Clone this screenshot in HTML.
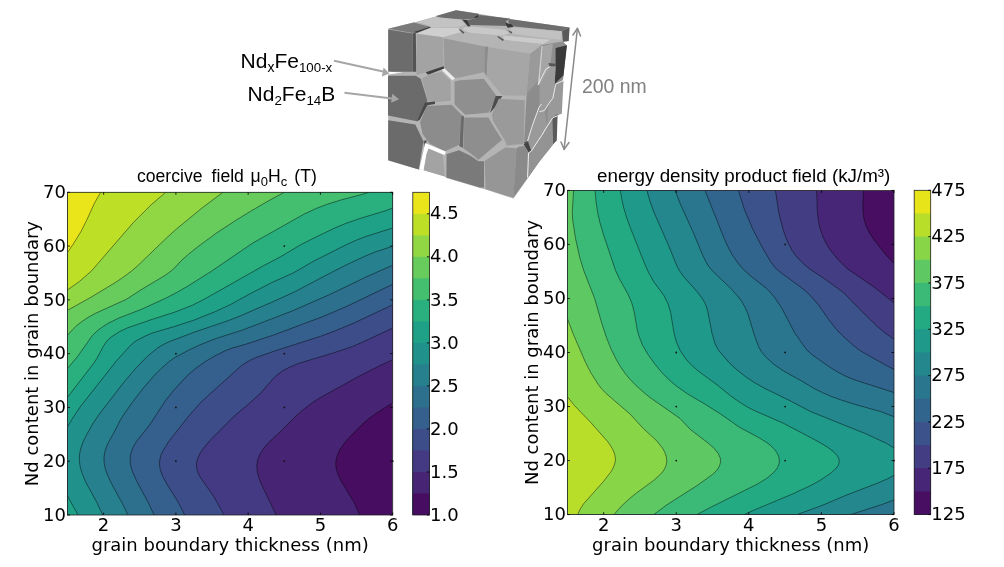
<!DOCTYPE html><html><head><meta charset="utf-8"><title>figure</title><style>html,body{margin:0;padding:0;background:#fff;}svg{display:block;}</style></head><body>
<svg width="1004" height="567" viewBox="0 0 1004 567">
<rect width="1004" height="567" fill="#fff"/>
<g><polygon points="388.2,28.8 413.7,22.5 416.3,22.0 434.8,16.7 456.0,10.3 474.0,13.0 478.5,13.8 509.2,19.1 569.5,27.6 568.7,41.1 563.0,41.8 566.5,45.3 563.1,78.8 561.8,81.4 559.2,111.9 556.0,120.0 554.6,142.6 539.0,162.0 513.5,198.6 485.5,189.5 480.0,188.0 446.3,178.0 444.9,176.6 423.7,170.3 418.8,169.6 388.2,160.4" fill="#b4b4b4"/>
<polygon points="530.3,53.7 542.0,45.0 562.0,41.5 563.0,41.8 566.5,45.3 563.1,78.8 561.8,81.4 559.2,111.9 556.0,120.0 554.6,142.6 539.0,162.0 513.5,198.6 527.8,177.8 529.2,152.4 526.8,96.0" fill="#8e8e8e"/>
<polygon points="435.9,16.1 456.0,10.3 478.6,13.7 474.9,18.7 462.4,19.3 440.0,18.0" fill="#6d6d6d"/>
<polygon points="466.2,19.9 474.9,18.7 479.5,14.9 510.2,18.6 506.0,21.2 509.2,26.0 470.0,24.9" fill="#686868"/>
<polygon points="509.2,19.1 569.5,27.6 562.0,31.3 512.3,26.2 508.0,22.0" fill="#6e6e6e"/>
<polygon points="562.0,31.3 569.5,27.6 568.7,41.1 563.0,41.8" fill="#595959"/>
<polygon points="416.3,22.0 434.8,16.7 460.3,19.8 465.6,24.6 460.3,26.7 431.7,27.2 426.4,24.6" fill="#c3c3c3"/>
<polygon points="463.8,27.3 470.0,26.5 504.9,29.7 509.2,33.4 501.7,35.5 470.0,32.9 462.5,29.8" fill="#c8c8c8"/>
<polygon points="509.2,27.0 562.0,31.3 561.0,39.7 550.4,38.7 512.3,33.4" fill="#c1c1c1"/>
<polygon points="502.8,35.5 550.4,39.7 543.0,44.0 503.9,39.7" fill="#cbcbcb"/>
<polygon points="388.2,28.8 413.7,22.5 429.6,26.7 412.6,33.1" fill="#7b7b7b"/>
<polygon points="416.8,33.6 429.6,27.8 458.2,27.8 461.4,32.0 442.8,37.3" fill="#cfcfcf"/>
<polygon points="443.3,37.3 463.4,33.1 468.7,32.5 499.6,36.3 501.0,40.0 486.0,45.5 470.0,44.5 443.3,38.2" fill="#b5b5b5"/>
<polygon points="489.0,46.6 502.8,40.8 542.0,44.5 530.3,53.5" fill="#b4b4b4"/>
<polygon points="414.5,31.8 429.6,26.7 431.0,27.5 416.5,33.0" fill="#3f3f3f"/>
<polygon points="462.1,19.6 466.9,19.9 470.5,26.3 468.1,26.5" fill="#3a3a3a"/>
<polygon points="473.5,18.1 478.9,14.0 477.7,17.4" fill="#333333"/>
<polygon points="505.2,22.9 511.2,24.1 513.5,27.1 507.6,27.7" fill="#3a3a3a"/>
<polygon points="459.8,28.9 464.5,32.5 463.3,33.7 459.2,30.1" fill="#555555"/>
<polygon points="498.0,36.1 504.0,39.7 502.8,40.9 497.4,37.0" fill="#555555"/>
<polygon points="507.6,30.1 512.3,31.9 511.2,33.7" fill="#555555"/>
<polygon points="388.2,29.4 412.6,33.4 412.6,71.7 388.2,71.7" fill="#6c6c6c"/>
<polygon points="412.6,33.4 415.8,31.5 416.3,71.7 412.6,71.7" fill="#545454"/>
<polygon points="416.8,34.1 442.8,37.3 443.6,67.5 416.4,75.0" fill="#a3a3a3"/>
<polygon points="443.6,38.2 484.5,46.5 484.5,72.0 460.0,77.5 453.0,78.0 444.5,67.5" fill="#9a9a9a"/>
<polygon points="484.5,46.5 488.4,46.8 486.6,76.5 484.3,72.8" fill="#8c8c8c"/>
<polygon points="488.0,47.2 530.3,53.7 526.8,95.8 502.3,95.3 487.0,77.0" fill="#a6a6a6"/>
<polygon points="530.3,53.7 542.0,45.6 540.2,78.0 537.4,81.6 526.8,93.6" fill="#9a9a9a"/>
<polygon points="541.5,46.2 543.0,45.8 539.5,85.0 537.9,84.1" fill="#cdcdcd"/>
<polygon points="542.8,46.2 552.9,43.5 550.3,64.7 545.9,80.6 539.5,85.0" fill="#a5a5a5"/>
<polygon points="555.6,47.9 567.0,45.3 563.5,75.3 554.7,84.1 555.6,66.5" fill="#3a3a3a"/>
<polygon points="548.5,63.0 555.6,63.8 555.6,66.5 549.4,66.5" fill="#555555"/>
<polygon points="539.7,85.5 550.3,66.5 555.6,66.5 554.7,84.1 552.9,98.2 548.8,103.5 544.4,110.6 539.5,111.5" fill="#9c9c9c"/>
<polygon points="555.6,84.1 563.5,80.6 561.8,114.1 552.9,117.6 547.0,126.5 548.8,103.5 552.9,98.2" fill="#999999"/>
<polygon points="425.7,72.3 443.6,66.2 444.2,68.6 428.0,74.8" fill="#404040"/>
<polygon points="441.7,69.9 444.5,68.5 455.0,78.2 452.5,80.5" fill="#ececec"/>
<polygon points="388.0,71.7 403.0,72.6 388.0,74.6" fill="#ffffff"/>
<polygon points="388.0,75.8 415.8,75.8 420.7,78.8 427.5,100.7 417.0,121.3 388.0,115.6" fill="#6b6b6b"/>
<polygon points="421.7,78.8 429.4,74.3 441.7,72.0 450.5,80.5 450.8,100.7 434.3,102.2 428.2,100.8" fill="#a2a2a2"/>
<polygon points="454.5,81.5 460.0,80.2 483.8,78.8 496.5,96.0 488.8,112.6 480.0,113.6 465.2,114.8 454.5,104.2" fill="#8f8f8f"/>
<polygon points="425.0,102.6 434.9,101.4 435.0,104.0 427.5,105.2 419.8,119.8 416.8,121.5" fill="#4a4a4a"/>
<polygon points="495.7,96.0 502.3,96.0 494.4,107.9 489.8,113.2" fill="#4d4d4d"/>
<polygon points="526.5,96.5 537.9,85.0 539.5,111.5 539.1,107.1 532.0,126.5 527.6,141.0 524.0,144.0" fill="#8c8c8c"/>
<polygon points="532.0,126.5 539.1,107.1 544.4,110.6 547.0,126.5 541.8,135.3 538.2,140.6 531.2,151.2 528.0,141.0" fill="#9a9a9a"/>
<polygon points="528.5,152.9 538.2,140.6 547.0,126.5 552.9,117.6 553.2,144.1 539.0,162.0 527.8,177.8" fill="#939393"/>
<polygon points="552.4,117.6 557.6,114.1 556.8,140.6 553.2,144.1" fill="#5a5a5a"/>
<polygon points="524.1,142.4 528.0,141.0 531.2,151.2 528.5,152.9" fill="#505050"/>
<polygon points="498.8,98.8 524.8,100.2 523.6,144.0 506.7,145.4 505.3,141.2 493.0,121.0 491.9,114.5" fill="#9a9a9a"/>
<polygon points="427.0,106.0 451.6,104.8 461.0,114.3 461.4,120.0 458.8,145.0 444.9,151.2 429.6,143.6 422.6,134.0 420.0,122.0" fill="#8c8c8c"/>
<polygon points="461.4,115.0 464.0,116.5 463.0,148.0 459.2,146.0" fill="#6a6a6a"/>
<polygon points="464.2,117.5 488.4,117.5 494.5,128.0 502.0,139.7 478.5,159.8 470.0,153.0 463.5,148.5" fill="#8e8e8e"/>
<polygon points="388.2,120.2 415.3,124.4 423.4,141.2 418.8,169.4 388.2,160.2" fill="#6b6b6b"/>
<polygon points="423.7,141.2 426.5,139.7 426.0,150.0 424.4,152.4" fill="#555555"/>
<polygon points="425.0,143.0 446.0,151.8 444.5,155.0 428.5,148.6 426.4,154.0 423.6,170.2 419.2,169.6 423.2,152.0" fill="#ffffff"/>
<polygon points="428.6,148.8 442.8,155.0 444.9,176.4 423.9,170.2 426.7,154.5" fill="#a3a3a3"/>
<polygon points="446.5,154.2 459.0,150.2 470.0,155.6 478.5,161.2 484.0,161.2 484.0,187.6 480.0,187.6 446.4,177.6" fill="#7a7a7a"/>
<polygon points="484.6,161.0 505.3,147.5 516.5,148.2 513.4,197.8 485.6,189.0" fill="#969696"/>
<polygon points="516.5,148.2 519.0,146.8 524.7,146.1 528.9,153.2 527.5,177.9 513.4,197.8" fill="#8a8a8a"/>
<polygon points="523.6,144.2 527.8,142.8 530.6,149.8 529.2,152.6" fill="#444444"/>
<polyline points="537.9,85.0 545.9,69.1 550.3,66.5" fill="none" stroke="#f2f2f2" stroke-width="0.9"/>
<polyline points="555.6,84.1 563.5,80.6" fill="none" stroke="#f2f2f2" stroke-width="0.9"/>
<polyline points="527.6,141.0 532.0,126.5 539.1,107.1 541.5,104.0" fill="none" stroke="#f2f2f2" stroke-width="0.9"/>
<polyline points="539.5,111.5 544.4,110.6 548.8,103.5 552.9,98.2 555.6,84.5" fill="none" stroke="#f2f2f2" stroke-width="0.9"/>
<polyline points="527.6,177.6 528.5,152.9 531.2,151.2 538.2,140.6 541.8,135.3 547.0,126.5 552.9,117.6 561.8,114.1" fill="none" stroke="#f2f2f2" stroke-width="1.0"/></g>
<g font-family="Liberation Sans, Arial, sans-serif" fill="#000">
<text x="240.6" y="67.6" font-size="21">Nd<tspan font-size="14" dy="4.8">x</tspan><tspan dy="-4.8">Fe</tspan><tspan font-size="13.3" dy="4.8">100-x</tspan></text>
<text x="247.6" y="100.7" font-size="21">Nd<tspan font-size="13.3" dy="4.7">2</tspan><tspan dy="-4.7">Fe</tspan><tspan font-size="13.3" dy="4.7">14</tspan><tspan dy="-4.7">B</tspan></text>
</g>
<g stroke="#a6a6a6" stroke-width="2" fill="#a6a6a6">
<line x1="334" y1="60.8" x2="383" y2="71.6"/><polygon stroke="none" points="389.4,73.4 381.8,76.6 383.6,67.4"/>
<line x1="344.5" y1="92.8" x2="392" y2="98.4"/><polygon stroke="none" points="399,99.2 391.2,102.8 392.2,93.8"/>
</g>
<g stroke="#8a8a8a" stroke-width="1.5" fill="none" stroke-linecap="round" stroke-linejoin="round">
<line x1="577.4" y1="28.5" x2="564.1" y2="149.2"/>
<polyline points="573,35 577.4,28.3 580.6,36"/>
<polyline points="561,142 564.1,149.4 569,142.5"/>
</g>
<text x="582" y="93" font-size="19.4" fill="#808080" font-family="Liberation Sans, Arial, sans-serif">200 nm</text>
<clipPath id="cl"><rect x="67.50" y="192.30" width="325.20" height="322.70"/></clipPath>
<g clip-path="url(#cl)"><rect x="67.50" y="192.30" width="325.20" height="322.70" fill="#470d60"/>
<path d="M68.5 192.3L392.7 192.3L392.7 402.9L379.0 411.3L369.3 418.3L362.2 424.3L351.2 435.3L345.0 442.3L340.1 449.3L337.3 455.3L335.9 461.3L335.8 464.3L336.2 468.3L338.7 476.3L341.8 482.3L353.9 502.3L357.3 509.3L359.4 515.0L67.5 515.0L67.5 192.3Z" fill="#482475"/>
<path d="M68.5 192.3L392.7 192.3L392.7 359.7L376.5 367.3L358.9 376.3L321.5 396.9L313.5 401.9L304.5 408.5L296.5 415.4L281.9 430.3L269.8 441.3L263.7 448.3L259.9 454.3L257.5 460.3L256.8 466.3L257.4 472.3L259.1 478.3L261.4 484.3L276.2 515.0L67.5 515.0L67.5 192.3Z" fill="#443983"/>
<path d="M68.5 192.3L392.7 192.3L392.7 328.1L361.5 342.6L352.5 346.5L332.5 353.2L298.5 363.4L289.3 367.3L281.9 371.3L277.8 374.3L273.4 378.3L260.5 393.3L249.4 403.3L234.0 416.3L209.2 441.3L202.6 449.3L199.0 455.3L197.5 459.0L196.7 462.3L196.4 465.3L196.7 468.3L197.8 472.3L199.6 476.3L213.6 496.3L224.1 515.0L67.5 515.0L67.5 192.3Z" fill="#3d4d8a"/>
<path d="M68.5 192.3L392.7 192.3L392.7 304.8L353.5 323.2L334.5 331.1L320.5 336.3L276.5 350.4L256.6 357.3L250.5 360.1L244.8 363.3L240.5 366.4L201.5 401.6L189.5 415.1L168.9 441.3L162.6 451.3L160.9 455.3L159.9 459.3L159.5 463.3L159.8 467.3L160.8 471.3L162.7 476.3L167.0 484.3L178.5 502.7L184.7 515.0L67.5 515.0L67.5 192.3Z" fill="#355f8d"/>
<path d="M68.5 192.3L392.7 192.3L392.7 284.3L346.9 306.3L322.5 316.7L272.8 335.3L246.5 344.0L230.5 348.6L219.9 353.3L205.7 361.3L197.1 367.3L190.8 372.3L180.8 382.3L172.5 391.7L166.5 399.3L149.5 425.1L140.2 436.3L135.9 442.3L132.2 449.3L130.9 453.3L130.3 456.3L130.1 460.3L130.5 464.3L131.3 468.3L133.0 473.3L136.8 481.3L147.6 501.3L154.1 515.0L67.5 515.0L67.5 192.3Z" fill="#2d708e"/>
<path d="M68.5 192.3L392.7 192.3L392.7 265.2L366.5 276.8L330.2 294.3L292.5 310.8L277.5 316.9L240.5 330.7L211.0 340.3L201.5 344.1L192.4 348.3L177.0 356.3L168.2 362.3L156.5 373.0L143.5 387.8L131.5 403.4L120.5 419.7L115.2 430.3L107.5 444.3L105.2 450.3L104.1 455.3L103.9 459.3L104.3 464.3L105.5 469.3L107.2 474.3L111.8 484.3L122.8 504.3L128.0 515.0L67.5 515.0L67.5 192.3Z" fill="#27808e"/>
<path d="M68.5 192.3L392.7 192.3L392.7 246.2L374.3 252.3L364.5 256.4L347.5 264.3L331.7 272.3L294.5 291.9L271.6 302.3L239.3 316.3L227.5 320.9L193.9 332.3L172.5 340.3L166.5 342.9L158.5 347.3L152.5 351.8L145.3 358.3L134.5 369.7L120.6 386.3L108.1 402.3L94.9 420.3L90.6 427.3L84.3 439.3L81.7 445.3L80.0 451.3L79.4 456.3L79.5 462.3L80.6 468.3L82.4 474.3L86.3 483.3L96.8 502.3L102.7 515.0L67.5 515.0L67.5 192.3Z" fill="#21918c"/>
<path d="M68.5 192.3L392.7 192.3L392.7 228.0L365.5 236.6L356.5 240.1L346.5 244.6L314.5 260.7L293.5 272.8L271.5 282.7L250.5 293.5L230.9 304.3L215.5 311.5L193.5 320.3L173.5 326.8L152.5 332.9L144.7 336.3L137.1 340.3L133.5 342.8L129.6 346.3L116.5 360.8L80.6 406.3L72.5 418.3L67.5 426.8L67.5 192.3ZM67.7 496.3L78.1 515.0L67.5 515.0L67.5 496.0Z" fill="#1fa188"/>
<path d="M68.5 192.3L392.7 192.3L392.7 208.0L384.5 211.1L359.5 218.6L345.5 223.5L333.5 228.6L310.5 239.7L299.5 245.4L280.5 256.8L263.5 265.7L204.1 299.3L192.3 305.3L174.3 312.3L153.5 318.9L127.5 327.8L119.5 331.6L110.8 337.3L106.6 341.3L103.3 346.3L97.5 357.3L94.4 362.3L67.5 397.3L67.5 192.3Z" fill="#2ab07f"/>
<path d="M68.5 192.3L368.8 192.3L361.5 194.6L340.5 200.1L326.5 204.5L316.5 208.3L303.5 214.4L252.3 243.3L211.5 271.2L187.5 286.3L176.5 292.6L165.5 298.3L141.4 309.3L118.5 318.2L107.5 323.6L98.5 329.7L92.5 335.3L77.7 356.3L67.5 368.4L67.5 192.3Z" fill="#44bf70"/>
<path d="M68.5 192.3L284.3 192.3L268.5 200.8L251.5 210.7L235.5 220.5L216.5 233.0L197.5 247.0L188.5 254.2L181.6 260.3L172.5 270.0L165.5 275.1L140.5 290.1L126.4 299.3L95.5 313.3L88.5 317.1L82.2 321.3L77.0 325.3L72.5 329.7L67.5 335.3L67.5 192.3Z" fill="#67cc5c"/>
<path d="M68.5 192.3L222.9 192.3L202.5 207.6L176.5 228.9L167.2 237.3L137.1 266.3L131.2 271.3L121.7 278.3L114.0 283.3L90.9 297.3L67.5 310.3L67.5 192.3Z" fill="#90d743"/>
<path d="M68.5 192.3L165.7 192.3L151.5 204.4L133.5 222.3L91.5 270.9L79.6 281.3L67.5 289.9L67.5 192.3Z" fill="#bddf26"/>
<path d="M68.5 192.3L100.7 192.3L94.9 202.3L86.6 220.3L81.1 231.3L73.1 244.3L67.5 252.4L67.5 192.3Z" fill="#eae51a"/>
<path d="M392.7 402.9L375.5 413.7L368.0 419.3L361.5 425.0L349.3 437.3L344.2 443.3L339.5 450.3L337.0 456.3L335.9 461.3L335.8 465.3L336.4 469.3L337.8 474.3L341.2 481.3L353.9 502.3L357.3 509.3L359.4 515.0M392.7 359.7L376.5 367.3L358.9 376.3L321.5 396.9L313.5 401.9L304.5 408.5L296.5 415.4L281.9 430.3L269.8 441.3L263.7 448.3L259.9 454.3L257.5 460.3L256.8 466.3L257.4 472.3L259.1 478.3L261.4 484.3L276.2 515.0M392.7 328.1L361.5 342.6L352.5 346.5L332.5 353.2L298.5 363.4L289.3 367.3L281.9 371.3L277.8 374.3L273.4 378.3L260.5 393.3L249.4 403.3L234.0 416.3L209.2 441.3L202.6 449.3L199.0 455.3L197.5 459.0L196.7 462.3L196.4 465.3L196.7 468.3L197.8 472.3L199.6 476.3L213.6 496.3L224.1 515.0M392.7 304.8L353.5 323.2L334.5 331.1L320.5 336.3L276.5 350.4L256.6 357.3L250.5 360.1L244.8 363.3L240.5 366.4L201.5 401.6L189.5 415.1L168.9 441.3L162.6 451.3L160.9 455.3L159.9 459.3L159.5 463.3L159.8 467.3L160.8 471.3L162.7 476.3L167.0 484.3L178.5 502.7L184.7 515.0M392.7 284.3L346.5 306.5L321.5 317.1L272.8 335.3L246.5 344.0L231.5 348.3L225.5 350.6L216.1 355.3L205.7 361.3L194.5 369.3L187.5 375.4L173.7 390.3L165.7 400.3L149.5 425.1L136.5 441.4L133.1 447.3L130.9 453.3L130.2 457.3L130.2 462.3L131.1 467.3L132.7 472.3L136.5 480.8L148.1 502.3L154.1 515.0M392.7 265.2L366.5 276.8L330.2 294.3L291.4 311.3L241.5 330.4L216.5 338.3L199.5 345.0L188.4 350.3L175.3 357.3L169.4 361.3L161.3 368.3L154.4 375.3L143.1 388.3L131.6 403.3L123.5 415.0L120.2 420.3L115.2 430.3L108.5 442.3L106.3 447.3L104.7 452.3L104.0 457.3L104.1 462.3L104.9 467.3L106.8 473.3L111.3 483.3L122.8 504.3L128.0 515.0M392.7 246.2L374.3 252.3L364.5 256.4L347.5 264.3L331.7 272.3L294.5 291.9L271.6 302.3L239.3 316.3L227.5 320.9L193.9 332.3L168.5 342.0L162.5 344.9L157.5 348.0L147.5 356.2L135.5 368.6L124.6 381.3L98.4 415.3L92.5 424.1L86.3 435.3L82.9 442.3L80.8 448.3L79.5 454.3L79.3 460.3L80.1 466.3L81.7 472.3L85.8 482.3L96.8 502.3L102.7 515.0M392.7 228.0L365.5 236.6L356.5 240.1L346.5 244.6L314.5 260.7L293.5 272.8L271.5 282.7L250.5 293.5L230.9 304.3L215.5 311.5L193.5 320.3L173.5 326.8L152.5 332.9L144.7 336.3L137.1 340.3L133.5 342.8L129.6 346.3L116.5 360.8L80.6 406.3L72.5 418.3L67.5 426.8M67.5 496.0L78.1 515.0M392.7 208.0L384.5 211.1L359.5 218.6L345.5 223.5L333.5 228.6L310.5 239.7L299.5 245.4L280.5 256.8L263.5 265.7L204.1 299.3L192.3 305.3L174.3 312.3L153.5 318.9L127.5 327.8L119.5 331.6L110.8 337.3L106.6 341.3L103.3 346.3L97.5 357.3L94.4 362.3L67.5 397.3M368.8 192.3L361.5 194.6L340.5 200.1L326.5 204.5L316.5 208.3L303.5 214.4L252.3 243.3L211.5 271.2L187.5 286.3L176.5 292.6L165.5 298.3L141.4 309.3L118.5 318.2L107.5 323.6L98.5 329.7L92.5 335.3L77.7 356.3L67.5 368.4M284.3 192.3L268.5 200.8L251.5 210.7L235.5 220.5L216.5 233.0L197.5 247.0L188.5 254.2L181.6 260.3L172.5 270.0L165.5 275.1L140.5 290.1L126.4 299.3L95.5 313.3L88.5 317.1L82.2 321.3L77.0 325.3L72.5 329.7L67.5 335.3M222.9 192.3L202.5 207.6L176.5 228.9L167.2 237.3L137.1 266.3L131.2 271.3L121.7 278.3L114.0 283.3L90.9 297.3L67.5 310.3M165.7 192.3L151.5 204.4L133.5 222.3L91.5 270.9L79.6 281.3L67.5 289.9M100.7 192.3L94.9 202.3L86.6 220.3L81.1 231.3L73.1 244.3L67.5 252.4" fill="none" stroke="#000" stroke-opacity="0.75" stroke-width="0.6"/></g>
<rect x="67.50" y="192.30" width="325.20" height="322.70" fill="none" stroke="#222" stroke-width="0.8"/>
<path d="M103.63 515.00v-2.5M103.63 192.30v2.5M175.90 515.00v-2.5M175.90 192.30v2.5M248.17 515.00v-2.5M248.17 192.30v2.5M320.43 515.00v-2.5M320.43 192.30v2.5M392.70 515.00v-2.5M392.70 192.30v2.5M67.50 515.00h2.5M392.70 515.00h-2.5M67.50 461.22h2.5M392.70 461.22h-2.5M67.50 407.43h2.5M392.70 407.43h-2.5M67.50 353.65h2.5M392.70 353.65h-2.5M67.50 299.87h2.5M392.70 299.87h-2.5M67.50 246.08h2.5M392.70 246.08h-2.5M67.50 192.30h2.5M392.70 192.30h-2.5" stroke="#000" stroke-width="0.8" fill="none"/>
<circle cx="175.90" cy="461.22" r="0.9" fill="#111"/>
<circle cx="175.90" cy="407.43" r="0.9" fill="#111"/>
<circle cx="175.90" cy="353.65" r="0.9" fill="#111"/>
<circle cx="284.30" cy="461.22" r="0.9" fill="#111"/>
<circle cx="284.30" cy="407.43" r="0.9" fill="#111"/>
<circle cx="284.30" cy="353.65" r="0.9" fill="#111"/>
<circle cx="284.30" cy="246.08" r="0.9" fill="#111"/>
<circle cx="392.70" cy="461.22" r="0.9" fill="#111"/>
<rect x="412.80" y="192.30" width="16.60" height="322.70" fill="#eae51a"/>
<rect x="412.80" y="213.81" width="16.60" height="301.19" fill="#bddf26"/>
<rect x="412.80" y="235.33" width="16.60" height="279.67" fill="#90d743"/>
<rect x="412.80" y="256.84" width="16.60" height="258.16" fill="#67cc5c"/>
<rect x="412.80" y="278.35" width="16.60" height="236.65" fill="#44bf70"/>
<rect x="412.80" y="299.87" width="16.60" height="215.13" fill="#2ab07f"/>
<rect x="412.80" y="321.38" width="16.60" height="193.62" fill="#1fa188"/>
<rect x="412.80" y="342.89" width="16.60" height="172.11" fill="#21918c"/>
<rect x="412.80" y="364.41" width="16.60" height="150.59" fill="#27808e"/>
<rect x="412.80" y="385.92" width="16.60" height="129.08" fill="#2d708e"/>
<rect x="412.80" y="407.43" width="16.60" height="107.57" fill="#355f8d"/>
<rect x="412.80" y="428.95" width="16.60" height="86.05" fill="#3d4d8a"/>
<rect x="412.80" y="450.46" width="16.60" height="64.54" fill="#443983"/>
<rect x="412.80" y="471.97" width="16.60" height="43.03" fill="#482475"/>
<rect x="412.80" y="493.49" width="16.60" height="21.51" fill="#470d60"/>
<rect x="412.80" y="192.30" width="16.60" height="322.70" fill="none" stroke="#222" stroke-width="0.8"/>
<path d="M429.40 515.00h-2.5M429.40 471.97h-2.5M429.40 428.95h-2.5M429.40 385.92h-2.5M429.40 342.89h-2.5M429.40 299.87h-2.5M429.40 256.84h-2.5M429.40 213.81h-2.5" stroke="#000" stroke-width="0.8" fill="none"/>
<g font-family="DejaVu Sans, sans-serif" font-size="18" fill="#000">
<text x="66.0" y="520.6" text-anchor="end">10</text>
<text x="66.0" y="466.8" text-anchor="end">20</text>
<text x="66.0" y="413.0" text-anchor="end">30</text>
<text x="66.0" y="359.2" text-anchor="end">40</text>
<text x="66.0" y="305.5" text-anchor="end">50</text>
<text x="66.0" y="251.7" text-anchor="end">60</text>
<text x="66.0" y="197.9" text-anchor="end">70</text>
<text x="103.6" y="531.4" text-anchor="middle">2</text>
<text x="175.9" y="531.4" text-anchor="middle">3</text>
<text x="248.2" y="531.4" text-anchor="middle">4</text>
<text x="320.4" y="531.4" text-anchor="middle">5</text>
<text x="392.7" y="531.4" text-anchor="middle">6</text>
<text x="430.0" y="520.6">1.0</text>
<text x="430.0" y="477.6">1.5</text>
<text x="430.0" y="434.5">2.0</text>
<text x="430.0" y="391.5">2.5</text>
<text x="430.0" y="348.5">3.0</text>
<text x="430.0" y="305.5">3.5</text>
<text x="430.0" y="262.4">4.0</text>
<text x="430.0" y="219.4">4.5</text>
</g>
<text font-family="Liberation Sans, Arial, sans-serif" font-size="17.6" y="181.5"><tspan x="137">coercive</tspan><tspan x="211.6">field</tspan><tspan x="250.6">μ</tspan><tspan font-size="13" dy="4">0</tspan><tspan dy="-4">H</tspan><tspan font-size="13" dy="4">c</tspan><tspan dy="-4" x="294.3">(T)</tspan></text>
<text font-family="DejaVu Sans, sans-serif" font-size="18" transform="translate(38.3,353.6) rotate(-90)" text-anchor="middle">Nd content in grain boundary</text>
<text font-family="DejaVu Sans, sans-serif" font-size="18" x="230.1" y="551.0" text-anchor="middle">grain boundary thickness (nm)</text>
<clipPath id="cr"><rect x="567.40" y="190.40" width="326.60" height="324.20"/></clipPath>
<g clip-path="url(#cr)"><rect x="567.40" y="190.40" width="326.60" height="324.20" fill="#470e61"/>
<path d="M568.4 190.4L863.5 190.4L862.8 204.4L863.0 212.4L864.0 219.4L866.7 227.4L869.7 233.4L874.5 240.4L886.4 255.4L894.0 263.4L894.0 514.6L567.4 514.6L567.4 190.4Z" fill="#482677"/>
<path d="M568.4 190.4L816.7 190.4L817.3 211.4L818.1 218.4L819.3 225.4L821.3 232.4L823.7 238.4L826.7 244.4L829.8 249.4L837.8 259.4L846.8 268.4L873.2 286.4L894.0 302.8L894.0 514.6L567.4 514.6L567.4 190.4Z" fill="#433d84"/>
<path d="M568.4 190.4L775.4 190.4L778.6 211.4L780.6 220.4L783.1 229.4L785.8 237.4L788.8 244.4L792.0 250.4L795.5 255.4L802.0 262.4L808.8 268.4L824.4 278.7L843.3 292.4L865.4 315.0L876.1 325.4L883.1 331.4L894.0 339.3L894.0 514.6L567.4 514.6L567.4 190.4Z" fill="#3b528b"/>
<path d="M568.4 190.4L738.4 190.4L744.4 209.4L752.4 228.4L762.2 247.4L770.5 261.4L774.9 267.4L780.5 272.4L803.7 289.4L809.2 294.4L818.1 304.4L829.4 320.5L836.4 329.4L842.4 335.5L853.3 345.4L859.4 350.1L864.8 353.4L886.1 365.4L894.0 369.4L894.0 514.6L567.4 514.6L567.4 190.4Z" fill="#32658e"/>
<path d="M568.4 190.4L705.0 190.4L724.4 239.1L728.7 248.4L732.6 255.4L738.2 263.4L743.3 269.4L752.4 277.4L766.5 288.4L770.4 292.4L774.6 297.4L781.9 308.4L794.4 332.3L804.4 346.9L807.2 350.4L813.1 355.4L828.4 366.3L836.6 371.4L845.4 376.1L856.2 380.4L894.0 392.5L894.0 514.6L567.4 514.6L567.4 190.4Z" fill="#2a768e"/>
<path d="M568.4 190.4L675.1 190.4L680.1 203.4L693.4 232.8L701.9 253.4L705.7 261.4L708.4 266.0L711.0 269.4L731.7 289.4L738.7 297.4L742.3 302.4L745.6 308.4L748.1 314.4L754.1 334.4L758.4 346.2L761.2 351.4L766.2 357.4L773.4 363.9L783.4 370.9L801.4 380.9L814.4 388.6L822.4 392.6L831.4 396.5L842.3 400.4L855.4 404.5L880.4 411.5L894.0 416.7L894.0 500.0L881.4 504.7L850.6 514.6L567.4 514.6L567.4 190.4Z" fill="#24878e"/>
<path d="M568.4 190.4L646.9 190.4L650.0 201.4L654.0 212.4L668.1 244.4L677.1 266.4L679.4 270.6L683.4 276.3L697.7 292.4L701.5 297.4L704.6 302.4L706.3 306.4L707.8 311.4L712.0 333.4L715.0 343.4L716.8 347.4L719.4 351.4L728.9 362.4L736.4 369.4L746.4 377.3L754.1 382.4L764.4 388.2L790.4 400.9L810.4 411.5L865.4 433.6L886.4 443.3L894.0 448.0L894.0 475.4L887.4 478.9L876.9 483.4L846.4 495.1L823.4 504.9L797.0 514.6L567.4 514.6L567.4 190.4Z" fill="#1f998a"/>
<path d="M568.4 190.4L620.3 190.4L622.9 204.4L627.0 218.4L645.4 265.5L651.7 278.4L654.4 282.7L663.8 295.4L666.5 300.4L668.6 305.4L671.0 314.4L674.3 334.4L677.7 345.4L680.1 350.4L683.2 355.4L687.0 360.4L690.8 364.4L698.7 371.4L717.4 385.1L731.3 396.4L744.4 405.2L749.4 408.1L757.4 412.0L783.4 423.2L817.9 441.4L824.8 445.4L830.7 449.4L835.3 453.4L837.7 456.4L838.7 458.4L839.2 461.4L838.5 464.4L837.4 466.5L835.1 469.4L831.8 472.4L821.7 479.4L810.9 485.4L793.9 493.4L744.1 514.6L567.4 514.6L567.4 190.4Z" fill="#24aa83"/>
<path d="M568.4 190.4L595.1 190.4L596.6 206.4L599.4 220.4L603.1 233.4L613.9 266.4L617.7 275.4L627.6 293.4L631.9 303.4L634.3 312.4L637.9 332.4L641.3 342.4L646.0 351.4L656.7 366.4L667.5 378.4L673.1 383.4L679.5 388.4L688.3 394.4L705.4 404.4L719.7 413.4L739.4 427.2L758.4 437.4L766.5 442.4L770.5 445.4L773.7 448.4L776.4 451.9L778.3 455.4L779.4 460.4L779.1 463.4L778.1 466.4L774.9 471.4L768.1 477.4L762.2 481.4L756.8 484.4L710.4 507.4L697.0 514.6L567.4 514.6L567.4 190.4Z" fill="#3aba76"/>
<path d="M568.4 190.4L573.6 190.4L572.3 211.4L572.7 220.4L576.1 241.4L580.8 261.4L584.0 271.4L594.6 298.4L601.8 323.4L606.4 337.4L611.7 350.4L617.3 361.4L621.4 368.2L625.4 373.8L630.4 379.8L635.9 385.4L644.4 393.0L651.4 398.5L679.9 418.4L690.4 429.5L708.5 443.4L714.2 448.4L718.2 453.4L720.4 458.4L720.5 462.4L719.3 466.4L716.7 470.4L712.6 474.4L697.3 485.4L666.4 505.1L653.7 514.6L567.4 514.6L567.4 190.4Z" fill="#5ec962"/>
<path d="M567.7 319.4L573.4 334.4L585.0 361.4L590.7 372.4L597.5 383.4L601.4 388.6L606.0 393.4L630.4 414.4L643.4 428.6L652.4 436.5L657.3 441.4L661.3 446.4L664.3 451.4L666.2 456.4L666.8 460.4L666.6 463.4L665.4 467.4L663.4 470.9L660.4 474.4L652.4 481.4L636.4 493.0L629.4 498.7L621.4 506.1L613.9 514.6L567.4 514.6L567.4 318.7Z" fill="#89d548"/>
<path d="M567.8 397.4L574.4 405.5L590.7 422.4L607.5 441.4L611.0 446.4L613.4 450.8L615.0 455.4L615.4 459.4L614.2 465.4L612.4 469.4L610.5 472.4L603.5 481.4L583.9 503.4L580.4 508.7L577.6 514.6L567.4 514.6L567.4 396.8Z" fill="#b8de29"/>
<path d="M863.5 190.4L862.8 204.4L863.0 212.4L864.0 219.4L866.7 227.4L869.7 233.4L874.5 240.4L886.4 255.4L894.0 263.4M816.7 190.4L817.3 211.4L818.1 218.4L819.3 225.4L821.3 232.4L823.7 238.4L826.7 244.4L829.8 249.4L837.8 259.4L846.8 268.4L873.2 286.4L894.0 302.8M775.4 190.4L778.6 211.4L780.6 220.4L783.1 229.4L785.8 237.4L788.8 244.4L792.0 250.4L795.5 255.4L802.0 262.4L808.8 268.4L824.4 278.7L843.3 292.4L865.4 315.0L876.1 325.4L883.1 331.4L894.0 339.3M738.4 190.4L744.4 209.4L752.4 228.4L762.2 247.4L770.5 261.4L774.9 267.4L780.5 272.4L803.7 289.4L809.2 294.4L818.1 304.4L829.4 320.5L836.4 329.4L842.4 335.5L853.3 345.4L859.4 350.1L864.8 353.4L886.1 365.4L894.0 369.4M705.0 190.4L724.4 239.1L728.7 248.4L732.6 255.4L738.2 263.4L743.3 269.4L752.4 277.4L766.5 288.4L770.4 292.4L774.6 297.4L781.9 308.4L794.4 332.3L804.4 346.9L807.2 350.4L813.1 355.4L828.4 366.3L836.6 371.4L845.4 376.1L856.2 380.4L894.0 392.5M675.1 190.4L680.1 203.4L693.4 232.8L701.9 253.4L705.7 261.4L708.4 266.0L711.0 269.4L731.7 289.4L738.7 297.4L742.3 302.4L745.6 308.4L748.1 314.4L754.1 334.4L758.4 346.2L761.2 351.4L766.2 357.4L773.4 363.9L783.4 370.9L801.4 380.9L814.4 388.6L822.4 392.6L831.4 396.5L842.3 400.4L855.4 404.5L880.4 411.5L894.0 416.7M894.0 500.0L881.4 504.7L850.6 514.6M646.9 190.4L650.0 201.4L654.0 212.4L668.1 244.4L677.1 266.4L679.4 270.6L683.4 276.3L697.7 292.4L701.5 297.4L704.6 302.4L706.3 306.4L707.8 311.4L712.0 333.4L715.0 343.4L716.8 347.4L719.4 351.4L728.9 362.4L736.4 369.4L746.4 377.3L754.1 382.4L764.4 388.2L790.4 400.9L810.4 411.5L865.4 433.6L886.4 443.3L894.0 448.0M894.0 475.4L887.4 478.9L876.9 483.4L846.4 495.1L823.4 504.9L797.0 514.6M620.3 190.4L621.8 199.4L623.9 208.4L626.6 217.4L630.2 227.4L644.5 263.4L648.5 272.4L653.5 281.4L663.8 295.4L667.9 303.4L670.6 312.4L673.9 332.4L676.2 341.4L680.1 350.4L686.2 359.4L691.8 365.4L698.7 371.4L717.4 385.1L731.4 396.5L741.4 403.3L748.1 407.4L754.4 410.6L783.7 423.4L819.7 442.4L827.9 447.4L833.2 451.4L837.0 455.4L838.7 458.4L839.2 461.4L838.9 463.4L838.1 465.4L836.0 468.4L830.5 473.4L820.0 480.4L810.9 485.4L791.6 494.4L755.7 509.4L744.1 514.6M595.1 190.4L596.0 201.4L597.6 212.4L599.9 222.4L603.4 234.4L615.5 270.4L619.7 279.4L627.6 293.4L631.6 302.4L634.1 311.4L637.2 329.4L638.7 335.4L642.6 345.4L647.9 354.4L655.1 364.4L661.8 372.4L668.6 379.4L675.5 385.4L687.4 393.8L705.4 404.4L720.4 413.9L739.4 427.2L758.4 437.4L766.5 442.4L771.4 446.2L774.4 449.3L776.7 452.4L778.7 456.4L779.4 461.4L778.9 464.4L777.6 467.4L773.9 472.4L766.7 478.4L756.8 484.4L710.4 507.4L697.0 514.6M573.6 190.4L572.3 211.4L572.6 219.4L575.5 238.4L579.7 257.4L583.7 270.4L594.6 298.4L601.8 323.4L606.4 337.4L611.2 349.4L616.4 359.8L620.9 367.4L625.1 373.4L630.1 379.4L635.9 385.4L644.4 393.0L651.4 398.5L679.9 418.4L690.4 429.5L708.5 443.4L714.2 448.4L718.2 453.4L720.4 458.4L720.5 462.4L719.3 466.4L716.7 470.4L712.6 474.4L697.3 485.4L666.4 505.1L653.7 514.6M567.4 318.7L573.4 334.4L585.5 362.4L591.2 373.4L598.2 384.4L602.1 389.4L606.0 393.4L630.4 414.4L643.4 428.6L656.3 440.4L662.7 448.4L664.8 452.4L666.2 456.4L666.8 461.4L666.1 465.4L664.3 469.4L661.4 473.4L653.7 480.4L635.9 493.4L629.4 498.7L621.4 506.1L613.9 514.6M567.4 396.8L574.3 405.4L590.7 422.4L607.5 441.4L611.0 446.4L613.2 450.4L614.7 454.4L615.4 458.4L615.3 461.4L614.2 465.4L612.4 469.4L610.5 472.4L603.5 481.4L583.9 503.4L580.4 508.7L577.6 514.6" fill="none" stroke="#000" stroke-opacity="0.75" stroke-width="0.6"/></g>
<rect x="567.40" y="190.40" width="326.60" height="324.20" fill="none" stroke="#222" stroke-width="0.8"/>
<path d="M603.69 514.60v-2.5M603.69 190.40v2.5M676.27 514.60v-2.5M676.27 190.40v2.5M748.84 514.60v-2.5M748.84 190.40v2.5M821.42 514.60v-2.5M821.42 190.40v2.5M894.00 514.60v-2.5M894.00 190.40v2.5M567.40 514.60h2.5M894.00 514.60h-2.5M567.40 460.57h2.5M894.00 460.57h-2.5M567.40 406.53h2.5M894.00 406.53h-2.5M567.40 352.50h2.5M894.00 352.50h-2.5M567.40 298.47h2.5M894.00 298.47h-2.5M567.40 244.43h2.5M894.00 244.43h-2.5M567.40 190.40h2.5M894.00 190.40h-2.5" stroke="#000" stroke-width="0.8" fill="none"/>
<circle cx="676.27" cy="460.57" r="0.9" fill="#111"/>
<circle cx="676.27" cy="406.53" r="0.9" fill="#111"/>
<circle cx="676.27" cy="352.50" r="0.9" fill="#111"/>
<circle cx="785.13" cy="460.57" r="0.9" fill="#111"/>
<circle cx="785.13" cy="406.53" r="0.9" fill="#111"/>
<circle cx="785.13" cy="352.50" r="0.9" fill="#111"/>
<circle cx="785.13" cy="244.43" r="0.9" fill="#111"/>
<circle cx="894.00" cy="460.57" r="0.9" fill="#111"/>
<rect x="914.20" y="190.30" width="16.50" height="324.30" fill="#e7e419"/>
<rect x="914.20" y="213.46" width="16.50" height="301.14" fill="#b8de29"/>
<rect x="914.20" y="236.63" width="16.50" height="277.97" fill="#89d548"/>
<rect x="914.20" y="259.79" width="16.50" height="254.81" fill="#5ec962"/>
<rect x="914.20" y="282.96" width="16.50" height="231.64" fill="#3aba76"/>
<rect x="914.20" y="306.12" width="16.50" height="208.48" fill="#24aa83"/>
<rect x="914.20" y="329.29" width="16.50" height="185.31" fill="#1f998a"/>
<rect x="914.20" y="352.45" width="16.50" height="162.15" fill="#24878e"/>
<rect x="914.20" y="375.61" width="16.50" height="138.99" fill="#2a768e"/>
<rect x="914.20" y="398.78" width="16.50" height="115.82" fill="#32658e"/>
<rect x="914.20" y="421.94" width="16.50" height="92.66" fill="#3b528b"/>
<rect x="914.20" y="445.11" width="16.50" height="69.49" fill="#433d84"/>
<rect x="914.20" y="468.27" width="16.50" height="46.33" fill="#482677"/>
<rect x="914.20" y="491.44" width="16.50" height="23.16" fill="#470e61"/>
<rect x="914.20" y="190.30" width="16.50" height="324.30" fill="none" stroke="#222" stroke-width="0.8"/>
<path d="M930.70 514.60h-2.5M930.70 468.27h-2.5M930.70 421.94h-2.5M930.70 375.61h-2.5M930.70 329.29h-2.5M930.70 282.96h-2.5M930.70 236.63h-2.5M930.70 190.30h-2.5" stroke="#000" stroke-width="0.8" fill="none"/>
<g font-family="DejaVu Sans, sans-serif" font-size="18" fill="#000">
<text x="565.9" y="520.2" text-anchor="end">10</text>
<text x="565.9" y="466.2" text-anchor="end">20</text>
<text x="565.9" y="412.1" text-anchor="end">30</text>
<text x="565.9" y="358.1" text-anchor="end">40</text>
<text x="565.9" y="304.1" text-anchor="end">50</text>
<text x="565.9" y="250.0" text-anchor="end">60</text>
<text x="565.9" y="196.0" text-anchor="end">70</text>
<text x="603.7" y="531.0" text-anchor="middle">2</text>
<text x="676.3" y="531.0" text-anchor="middle">3</text>
<text x="748.8" y="531.0" text-anchor="middle">4</text>
<text x="821.4" y="531.0" text-anchor="middle">5</text>
<text x="894.0" y="531.0" text-anchor="middle">6</text>
<text x="931.3" y="520.2">125</text>
<text x="931.3" y="473.9">175</text>
<text x="931.3" y="427.5">225</text>
<text x="931.3" y="381.2">275</text>
<text x="931.3" y="334.9">325</text>
<text x="931.3" y="288.6">375</text>
<text x="931.3" y="242.2">425</text>
<text x="931.3" y="195.9">475</text>
</g>
<text font-family="Liberation Sans, Arial, sans-serif" font-size="18.8" x="597" y="182.2">energy density product field (kJ/m³)</text>
<text font-family="DejaVu Sans, sans-serif" font-size="18" transform="translate(537.5,352.5) rotate(-90)" text-anchor="middle">Nd content in grain boundary</text>
<text font-family="DejaVu Sans, sans-serif" font-size="18" x="730.7" y="551.0" text-anchor="middle">grain boundary thickness (nm)</text>
</svg></body></html>
